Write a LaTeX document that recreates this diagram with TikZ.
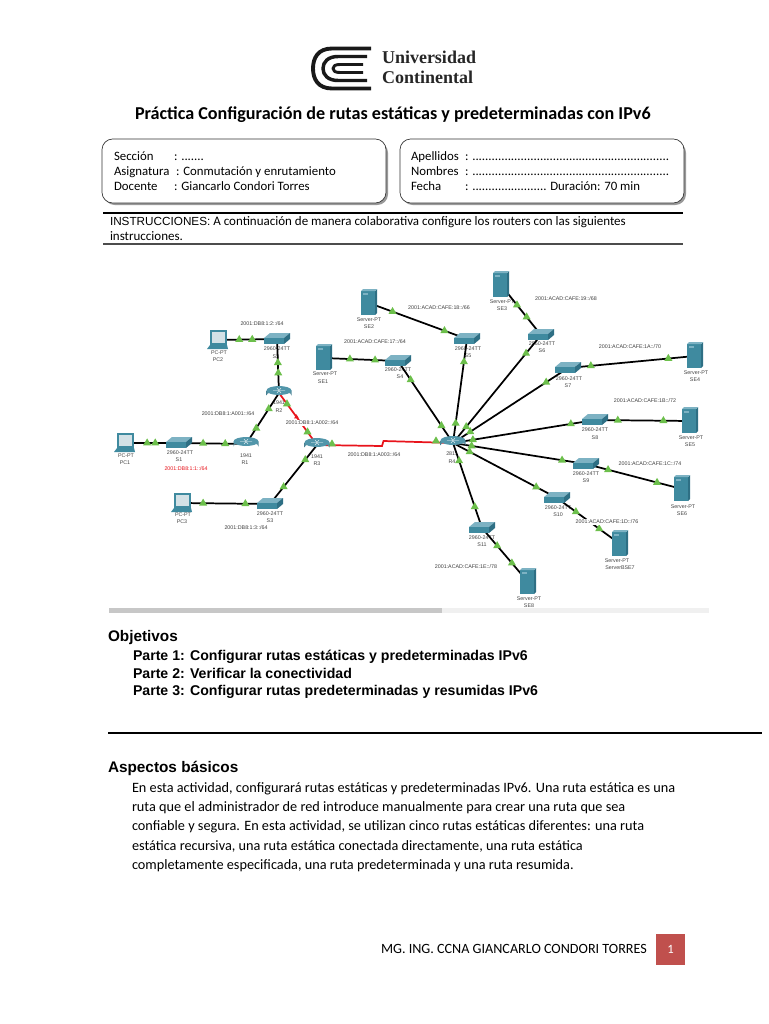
\documentclass[tikz,border=0pt]{standalone}
\usepackage{fontspec}
\setmainfont{Carlito}
\newfontfamily\arialf{Liberation Sans}
\newfontfamily\seriff{Liberation Serif}
\usetikzlibrary{shapes.geometric}
\pgfdeclarelayer{lab}\pgfdeclarelayer{lnk}\pgfsetlayers{lab,lnk,main}
\definecolor{tealf}{HTML}{3F8A9F}
\definecolor{tealt}{HTML}{7DB2C3}
\definecolor{teals}{HTML}{2E6F84}
\definecolor{greent}{HTML}{6CBF4B}
\definecolor{redl}{HTML}{E8141C}
\definecolor{devtxt}{HTML}{444444}
\definecolor{pgred}{HTML}{C0504D}
\tikzset{
 txt/.style={anchor=base west,inner sep=0pt,outer sep=0pt,text=black},
 devbox/.style={inner sep=0pt,outer sep=0pt,minimum width=18pt,minimum height=10pt},
 devlab/.style={inner sep=0pt,outer sep=0pt,text=devtxt,font=\arialf\fontsize{4}{4}\selectfont},
 addr/.style={inner sep=.6pt,outer sep=0pt,text=black!75,fill=white,font=\arialf\fontsize{4}{4}\selectfont},
 link/.style={draw=black,line width=1.3pt},
 redlink/.style={draw=redl,line width=1.3pt},
 tri/.style={regular polygon,regular polygon sides=3,fill=greent,inner sep=0pt,outer sep=0pt,minimum size=7pt},
 infobox/.style={draw=black!80,line width=.5pt,rounded corners=8pt,fill=white,minimum width=213pt,minimum height=48pt,inner sep=0pt},
 logoline/.style={draw=black!90,line cap=butt,line join=round},
}
\newcommand{\tx}[5]{\node[txt,#4] (#1) at (#2,#3) {#5};}
\newcommand{\dlab}[4]{\begin{pgfonlayer}{lab}\node[devlab] (#1) at (#2,#3) {#4};\end{pgfonlayer}}
\newcommand{\devSw}[3]{\node[devbox] (#1) at (#2,#3) {};
 \begin{scope}[shift={(#2,#3)}]
 \fill[tealt] (-13,-1) -- (7,-1) -- (13,-6) -- (-7,-6) -- cycle;
 \fill[tealf] (-13,-1) rectangle (7,5);
 \fill[teals] (7,-1) -- (13,-6) -- (13,0) -- (7,5) -- cycle;
 \end{scope}}
\newcommand{\devSrv}[3]{\node[devbox,minimum width=12pt,minimum height=18pt] (#1) at (#2,#3) {};
 \begin{scope}[shift={(#2,#3)}]
 \fill[tealf] (-8,-12) rectangle (6,12);
 \fill[teals] (6,-12) -- (8,-14) -- (8,10) -- (6,12) -- cycle;
 \fill[tealt] (-8,-12) -- (6,-12) -- (8,-14) -- (-6,-14) -- cycle;
 \fill[tealt] (-6,-10) rectangle (-1,-8);
 \end{scope}}
\newcommand{\devRt}[3]{\node[devbox,minimum height=12pt] (#1) at (#2,#3) {};
 \begin{scope}[shift={(#2,#3)}]
 \shade[left color=teals!85,right color=teals!85,middle color=tealt!35] (-12.5,-2.5) -- (-12.5,2.5) arc[start angle=180,end angle=360,x radius=12.5,y radius=4.5] -- (12.5,-2.5) -- cycle;
 \fill[tealf!70!tealt] (0,-2.5) ellipse[x radius=12.5,y radius=4.5];
 \draw[white,line width=.3pt] (-6,-2.5) -- (-1,-2.5) (1,-2.5) -- (6,-2.5) (-2,-5) -- (2,0) (2,-5) -- (-2,0);
 \end{scope}}
\newcommand{\devPc}[3]{\node[devbox,minimum width=14pt,minimum height=13pt] (#1) at (#2,#3) {};
 \begin{scope}[shift={(#2,#3)}]
 \fill[tealf] (-8,-10) rectangle (9,5);
 \fill[black!12!tealt!30] (-6,-8) rectangle (7,3);
 \fill[tealf] (-8,5) -- (9,5) -- (10,9) -- (-11,9) -- cycle;
 \end{scope}}
\newcommand{\lnk}[4]{\begin{pgfonlayer}{lnk}\draw[link] (#1.center) -- (#2.center) node[tri,pos=#3] (#1-#2-a) {} node[tri,pos=#4] (#1-#2-b) {};\end{pgfonlayer}}
\begin{document}
\begin{tikzpicture}[x=.75pt,y=-.75pt]
\useasboundingbox (0,0) rectangle (768,1024);
% logo
\draw[logoline,line width=2.9pt] (371,48.5) -- (332,48.5) .. controls (318,48.5) and (313,58) .. (313,68.5) .. controls (313,79) and (318,88.5) .. (332,88.5) -- (371,88.5);
\draw[logoline,line width=2.6pt] (367,56.5) -- (338,56.5) .. controls (328,56.5) and (323,62) .. (323,68.5) .. controls (323,75) and (328,80.5) .. (338,80.5) -- (367,80.5);
\draw[logoline,line width=2.2pt] (363,64.5) -- (340,64.5) .. controls (335,64.5) and (333,66) .. (333,68.5) .. controls (333,71) and (335,72.5) .. (340,72.5) -- (363,72.5);
\tx{logoa}{382}{64}{font=\seriff\bfseries\fontsize{13.5}{13.5}\selectfont,text=black!85}{Universidad}
\tx{logob}{382}{84}{font=\seriff\bfseries\fontsize{13.5}{13.5}\selectfont,text=black!85}{Continental}
% title
\tx{title}{135}{119}{font=\bfseries\fontsize{13.6}{13.6}\selectfont}{Práctica Configuración de rutas estáticas y predeterminadas con IPv6}
% info boxes
\fill[black!40,rounded corners=8pt] (104,142) rectangle (388,205);
\fill[black!40,rounded corners=8pt] (402,142) rectangle (686,205);
\node[infobox] (boxa) at (244,171) {};
\node[infobox] (boxb) at (542,171) {};
\tikzset{inf/.style={font=\fontsize{9.6}{9.6}\selectfont}}
\tx{a1}{114}{160}{inf}{Sección}
\tx{a1c}{174}{160}{inf}{: .......}
\tx{a2}{114}{175}{inf}{Asignatura}
\tx{a2c}{176}{175}{inf}{: Conmutación y enrutamiento}
\tx{a3}{114}{190}{inf}{Docente}
\tx{a3c}{174}{190}{inf}{: Giancarlo Condori Torres}
\tx{b1}{411}{160}{inf}{Apellidos}
\tx{b1c}{465}{160}{inf}{: .............................................................}
\tx{b2}{411}{175}{inf}{Nombres}
\tx{b2c}{465}{175}{inf}{: .............................................................}
\tx{b3}{411}{190}{inf}{Fecha}
\tx{b3c}{465}{190}{inf}{: ....................... Duración: 70 min}
% instructions
\coordinate (il1a) at (103,213);\coordinate (il1b) at (683,213);
\coordinate (il2a) at (103,244);\coordinate (il2b) at (683,244);
\draw[line width=.8pt] (il1a) -- (il1b);
\draw[line width=.8pt,black!70] (il2a) -- (il2b);
\tx{ins1}{110}{225}{font=\fontsize{9.75}{9.75}\selectfont}{{\arialf\fontsize{8.8}{8.8}\selectfont INSTRUCCIONES:} A continuación de manera colaborativa configure los routers con las siguientes}
\tx{ins2}{110}{240}{font=\fontsize{9.75}{9.75}\selectfont}{instrucciones.}
% devices
\devPc{PCa}{125}{443}\devPc{PCb}{218}{340}\devPc{PCc}{182}{503}
\devSw{Sa}{179}{443}\devSw{Sb}{277}{339}\devSw{Sc}{270}{504}\devSw{Sd}{398}{361}\devSw{Se}{467}{339}\devSw{Sf}{541}{335}
\devSw{Sg}{568}{368}\devSw{Sh}{595}{420}\devSw{Si}{586}{464}\devSw{Sj}{557}{498}\devSw{Sk}{482}{528}
\devRt{Ra}{246}{444}\devRt{Rb}{279}{393}\devRt{Rc}{317}{445}\devRt{Rd}{453}{443}
\devSrv{SEa}{324}{358}\devSrv{SEb}{369}{303}\devSrv{SEc}{501}{285}\devSrv{SEd}{695}{356}\devSrv{SEe}{690}{421}\devSrv{SEf}{682}{489}\devSrv{SEg}{620}{544}\devSrv{SEh}{528}{582}
% device labels
\dlab{l1}{126}{456}{PC-PT}\dlab{l1b}{125}{463}{PC1}
\dlab{l2}{219}{353}{PC-PT}\dlab{l2b}{218}{360}{PC2}
\dlab{l3}{183}{515}{PC-PT}\dlab{l3b}{182}{522}{PC3}
\dlab{l4}{180}{453}{2960-24TT}\dlab{l4b}{179}{460}{S1}
\dlab{l5}{277}{349}{2960-24TT}\dlab{l5b}{276}{357}{S2}
\dlab{l6}{270}{514}{2960-24TT}\dlab{l6b}{270}{521}{S3}
\dlab{l7}{398}{370}{2960-24TT}\dlab{l7b}{400}{377}{S4}
\dlab{l8}{468}{349}{2960-24TT}\dlab{l8b}{468}{356}{S5}
\dlab{l9}{542}{344}{2960-24TT}\dlab{l9b}{542}{351}{S6}
\dlab{l10}{569}{379}{2960-24TT}\dlab{l10b}{568}{386}{S7}
\dlab{l11}{595}{430}{2960-24TT}\dlab{l11b}{595}{438}{S8}
\dlab{l12}{586}{474}{2960-24TT}\dlab{l12b}{586}{481}{S9}
\dlab{l13}{558}{508}{2960-24TT}\dlab{l13b}{558}{515}{S10}
\dlab{l14}{482}{538}{2960-24TT}\dlab{l14b}{482}{545}{S11}
\dlab{l15}{246}{456}{1941}\dlab{l15b}{245}{463}{R1}
\dlab{l16}{279}{403}{1941}\dlab{l16b}{279}{411}{R2}
\dlab{l17}{317}{457}{1941}\dlab{l17b}{317}{464}{R3}
\dlab{l18}{452}{454}{2811}\dlab{l18b}{452}{462}{R4}
\dlab{l19}{325}{374}{Server-PT}\dlab{l19b}{323}{382}{SE1}
\dlab{l20}{369}{320}{Server-PT}\dlab{l20b}{369}{327}{SE2}
\dlab{l21}{502}{302}{Server-PT}\dlab{l21b}{502}{309}{SE3}
\dlab{l22}{696}{373}{Server-PT}\dlab{l22b}{695}{380}{SE4}
\dlab{l23}{691}{438}{Server-PT}\dlab{l23b}{690}{445}{SE5}
\dlab{l24}{683}{507}{Server-PT}\dlab{l24b}{682}{514}{SE6}
\dlab{l25}{617}{561}{Server-PT}\dlab{l25b}{620}{568}{ServerBSE7}
\dlab{l26}{529}{599}{Server-PT}\dlab{l26b}{529}{606}{SE8}
% links
\lnk{PCb}{Sb}{.36}{.58}
\lnk{Sb}{Rb}{.44}{.63}
\lnk{Rb}{Ra}{.31}{.69}
\lnk{Sa}{PCa}{.59}{.44}
\lnk{Sa}{Ra}{.36}{.69}
\lnk{Rc}{Sc}{.25}{.71}
\lnk{PCc}{Sc}{.24}{.72}
\lnk{SEa}{Sd}{.35}{.69}
\lnk{SEb}{Se}{.24}{.77}
\lnk{Sd}{Rd}{.23}{.79}
\lnk{Se}{Rd}{.22}{.81}
\lnk{Sf}{Rd}{.17}{.85}
\lnk{SEc}{Sf}{.4}{.64}
\lnk{Sg}{Rd}{.19}{.85}
\lnk{Sg}{SEd}{.18}{.79}
\lnk{Sh}{Rd}{.17}{.86}
\lnk{Sh}{SEe}{.24}{.72}
\lnk{Rd}{Si}{.14}{.82}
\lnk{Si}{SEf}{.23}{.74}
\lnk{Rd}{Sj}{.16}{.8}
\lnk{Sj}{SEg}{.3}{.67}
\lnk{Rd}{Sk}{.21}{.75}
\lnk{Sk}{SEh}{.33}{.65}
\begin{pgfonlayer}{lnk}
\draw[redlink] (Rb.center) -- (Rc.center) node[tri,pos=.21] (rr1) {} node[tri,pos=.75] (rr2) {} node[tri,fill=redl,minimum size=4pt,pos=.46] (rr3) {};
\coordinate (zz1) at (382,446);\coordinate (zz2) at (383.5,441);
\draw[redlink] (Rc.center) -- (zz1) -- (zz2) -- (Rd.center);
\node[tri] (rz1) at (332,444) {};
\node[tri] (rz2) at (436,441) {};
\end{pgfonlayer}
% address labels
\node[addr] (n1) at (262,324) {2001:DB8:1:2::/64};
\node[addr] (n2) at (228,414) {2001:DB8:1:A001::/64};
\node[addr] (n3) at (312,423) {2001:DB8:1:A002::/64};
\node[addr,text=redl] (n4) at (186,469) {2001:DB8:1:1::/64};
\node[addr] (n5) at (374,455) {2001:DB8:1:A003::/64};
\node[addr] (n6) at (246,528) {2001:DB8:1:3::/64};
\node[addr] (n7) at (375,342) {2001:ACAD:CAFE:17::/64};
\node[addr] (n8) at (439,308) {2001:ACAD:CAFE:18::/66};
\node[addr] (n9) at (566,299) {2001:ACAD:CAFE:19::/68};
\node[addr] (n10) at (630,347) {2001:ACAD:CAFE:1A::/70};
\node[addr] (n11) at (645,401) {2001:ACAD:CAFE:1B::/72};
\node[addr] (n12) at (650,464) {2001:ACAD:CAFE:1C::/74};
\node[addr] (n13) at (607,522) {2001:ACAD:CAFE:1D::/76};
\node[addr] (n14) at (466,567) {2001:ACAD:CAFE:1E::/78};
% scrollbar
\fill[black!6] (109,608) rectangle (709,612.5);
\fill[black!22] (109,608) rectangle (442,612.5);
% objetivos
\tx{obj}{108}{641}{font=\arialf\bfseries\fontsize{11.5}{11.5}\selectfont}{Objetivos}
\tikzset{parte/.style={font=\arialf\bfseries\fontsize{10.6}{10.6}\selectfont}}
\tx{p1}{133}{660.5}{parte}{Parte 1: Configurar rutas estáticas y predeterminadas IPv6}
\tx{p2}{133}{678.5}{parte}{Parte 2: Verificar la conectividad}
\tx{p3}{133}{695.5}{parte}{Parte 3: Configurar rutas predeterminadas y resumidas IPv6}
\coordinate (ra) at (108,733);\coordinate (rb) at (762,733);
\draw[line width=2pt] (ra) -- (rb);
\tx{asp}{108}{772}{font=\arialf\bfseries\fontsize{11.5}{11.5}\selectfont}{Aspectos básicos}
\tikzset{body/.style={font=\fontsize{10.7}{10.7}\selectfont}}
\tx{t1}{132}{792}{body}{En esta actividad, configurará rutas estáticas y predeterminadas IPv6. Una ruta estática es una}
\tx{t2}{132}{811}{body}{ruta que el administrador de red introduce manualmente para crear una ruta que sea}
\tx{t3}{132}{830}{body}{confiable y segura. En esta actividad, se utilizan cinco rutas estáticas diferentes: una ruta}
\tx{t4}{132}{850}{body}{estática recursiva, una ruta estática conectada directamente, una ruta estática}
\tx{t5}{132}{869}{body}{completamente especificada, una ruta predeterminada y una ruta resumida.}
% footer
\tx{foot}{381}{953}{font=\fontsize{10.6}{10.6}\selectfont}{MG. ING. CCNA GIANCARLO CONDORI TORRES}
\node[inner sep=0pt,minimum width=21.75pt,minimum height=23.25pt,fill=pgred,text=white,font=\fontsize{9.5}{9.5}\selectfont] (pg) at (670.5,949.5) {1};
\end{tikzpicture}
\end{document}
